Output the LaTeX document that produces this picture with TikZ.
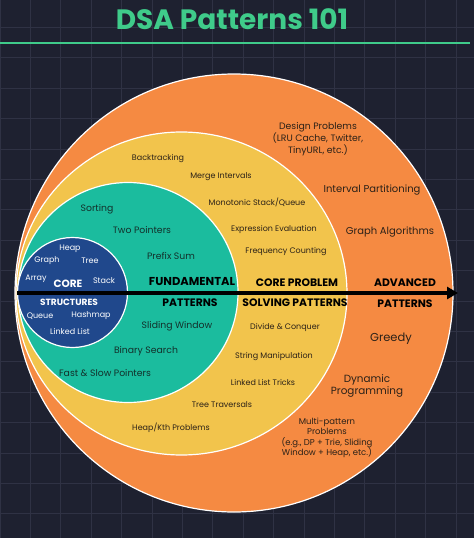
\documentclass[tikz,border=0pt]{standalone}
\usepackage{fontspec}
\setmainfont{Poppins}
\usepackage{tikz}
\usetikzlibrary{arrows.meta}
\definecolor{bgnavy}{HTML}{1E2130}
\definecolor{gridline}{HTML}{2F3244}
\definecolor{titlegreen}{HTML}{3FCB8A}
\definecolor{advorange}{HTML}{F58A42}
\definecolor{coreyellow}{HTML}{F2C44C}
\definecolor{fundteal}{HTML}{1BBC9E}
\definecolor{structblue}{HTML}{20488C}
\definecolor{inkdark}{HTML}{2B2118}
\definecolor{inkteal}{HTML}{13302B}

\begin{document}
\begin{tikzpicture}[x=1pt, y=-1pt, ring/.style={draw=white, line width=1.2pt}, lbl/.style={inner sep=0pt, align=center, text=inkdark}, corelbl/.style={lbl, text=white, font=\fontsize{8}{9}\selectfont}, corehead/.style={lbl, text=white, font=\fontsize{9}{10}\selectfont\bfseries}, fundlbl/.style={lbl, text=inkteal, font=\fontsize{9.3}{11}\selectfont}, problbl/.style={lbl, font=\fontsize{8}{9}\selectfont}, advlbl/.style={lbl, font=\fontsize{10}{12}\selectfont}, ringhead/.style={lbl, text=black, font=\fontsize{10.8}{12}\selectfont\bfseries}]
		\useasboundingbox (0,0) rectangle (474,538);
		\fill[bgnavy] (0,0) rectangle (474,538);
		\foreach \gx in {0,30.4,...,474} \draw[gridline, line width=0.8pt] (\gx,0) -- (\gx,538);
		\foreach \gy in {27.4,57.8,...,538} \draw[gridline, line width=0.8pt] (0,\gy) -- (474,\gy);

		\node[text=titlegreen, font=\fontsize{28}{32}\selectfont\bfseries] (title) at (232,19) {DSA Patterns 101};
		\coordinate (ruleleft) at (0,43);
		\coordinate (ruleright) at (470,43);
		\draw[titlegreen, line width=1.5pt] (ruleleft) -- (ruleright);

		\filldraw[ring, fill=advorange] (234,293) circle[radius=219pt];
		\filldraw[ring, fill=coreyellow] (181.5,293.5) ellipse[x radius=165.5pt, y radius=161.5pt];
		\filldraw[ring, fill=fundteal] (128,292.5) circle[radius=110pt];
		\filldraw[ring, fill=structblue] (72.5,292.5) circle[radius=55pt];

		\coordinate (axisstart) at (17,293);
		\coordinate (axisend) at (458,293);
		\draw[black, line width=3.5pt, -{Triangle[length=11pt, width=12pt]}] (axisstart) -- (axisend);

		\node[corelbl] (heap) at (70,249) {Heap};
		\node[corelbl] (graph) at (47,261) {Graph};
		\node[corelbl] (tree) at (90,261) {Tree};
		\node[corelbl] (array) at (36,279) {Array};
		\node[corelbl] (stack) at (104,281) {Stack};
		\node[corehead, font=\fontsize{10.5}{12}\selectfont\bfseries] (core) at (68,284) {CORE};
		\node[corehead] (structures) at (69,302) {STRUCTURES};
		\node[corelbl] (queue) at (40,316) {Queue};
		\node[corelbl] (hashmap) at (91,316) {Hashmap};
		\node[corelbl] (linkedlist) at (70,331) {Linked List};

		\node[fundlbl] (sorting) at (97,209) {Sorting};
		\node[fundlbl] (twoptr) at (142,230) {Two Pointers};
		\node[fundlbl] (prefix) at (171,256) {Prefix Sum};
		\node[ringhead, font=\fontsize{11.5}{13}\selectfont\bfseries] (fundamental) at (192,282) {FUNDAMENTAL};
		\node[ringhead] (fundpatterns) at (190,303) {PATTERNS};
		\node[fundlbl] (sliding) at (177,326) {Sliding Window};
		\node[fundlbl] (binsearch) at (146,351) {Binary Search};
		\node[fundlbl] (fastslow) at (105,373) {Fast \& Slow Pointers};

		\node[problbl] (backtrack) at (158,159) {Backtracking};
		\node[problbl] (merge) at (221,177) {Merge Intervals};
		\node[problbl] (monotonic) at (257,202) {Monotonic Stack/Queue};
		\node[problbl] (expression) at (274,229) {Expression Evaluation};
		\node[problbl] (frequency) at (286,252) {Frequency Counting};
		\node[ringhead] (coreproblem) at (297,283) {CORE PROBLEM};
		\node[ringhead] (solving) at (295,303) {SOLVING PATTERNS};
		\node[problbl] (divide) at (285,327) {Divide \& Conquer};
		\node[problbl] (string) at (274,357) {String Manipulation};
		\node[problbl] (lltricks) at (263,382) {Linked List Tricks};
		\node[problbl] (traversal) at (222,405) {Tree Traversals};
		\node[problbl] (heapkth) at (171,428) {Heap/Kth Problems};

		\node[advlbl, font=\fontsize{9.3}{12}\selectfont] (design) at (318,139) {Design Problems\\(LRU Cache, Twitter,\\TinyURL, etc.)};
		\node[advlbl] (partition) at (372,190) {Interval Partitioning};
		\node[advlbl] (graphalgo) at (390,232) {Graph Algorithms};
		\node[ringhead] (advanced) at (405,283) {ADVANCED};
		\node[ringhead] (advpatterns) at (405,304) {PATTERNS};
		\node[advlbl, font=\fontsize{11.5}{13}\selectfont] (greedy) at (391,339) {Greedy};
		\node[advlbl, font=\fontsize{10.4}{12}\selectfont] (dynamic) at (367,386) {Dynamic\\Programming};
		\node[advlbl, font=\fontsize{8.5}{10.5}\selectfont] (multi) at (327,438) {Multi-pattern\\Problems\\(e.g., DP + Trie, Sliding\\Window + Heap, etc.)};
	\end{tikzpicture}
\end{document}
